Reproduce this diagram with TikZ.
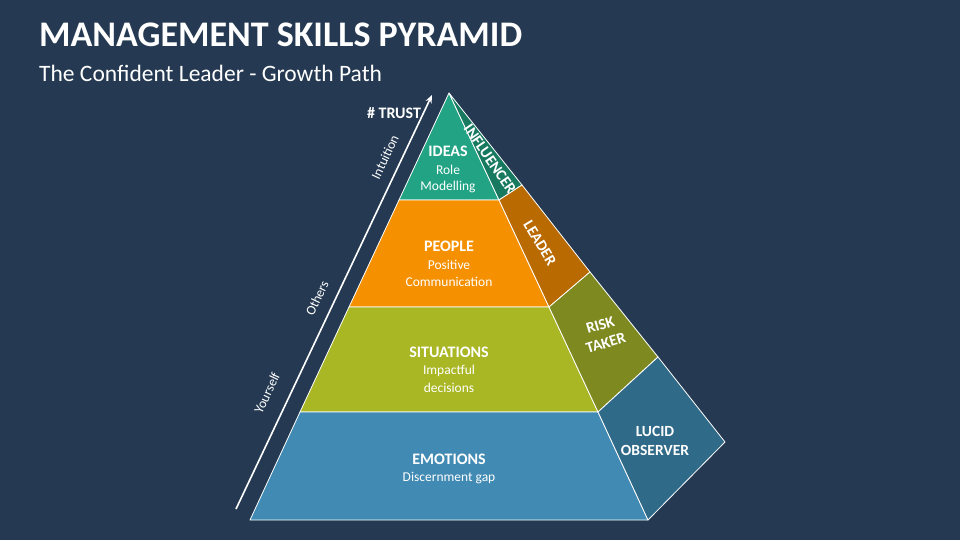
\documentclass[tikz,border=0pt]{standalone}
\usepackage{fontspec}
\setmainfont{Carlito}
\usetikzlibrary{arrows.meta}
\definecolor{bg}{HTML}{253A52}
\definecolor{ideas}{HTML}{21A384}
\definecolor{influ}{HTML}{177A60}
\definecolor{people}{HTML}{F59100}
\definecolor{leader}{HTML}{B96A00}
\definecolor{situ}{HTML}{A9B725}
\definecolor{risk}{HTML}{7E8A20}
\definecolor{emo}{HTML}{418AB3}
\definecolor{lucid}{HTML}{306A89}
\tikzset{
  face/.style={draw=white, line width=0.8pt, line join=round},
  head/.style={text=white, font=\fontsize{16}{18}\selectfont\bfseries, inner sep=0pt},
  sub/.style={text=white, font=\fontsize{13.5}{15}\selectfont, inner sep=0pt},
  side/.style={text=white, font=\fontsize{15.5}{17}\selectfont\bfseries, inner sep=0pt, align=center},
  axis/.style={text=white, font=\fontsize{13.5}{15}\selectfont, inner sep=0pt, rotate=64.7},
}
\begin{document}
\begin{tikzpicture}[x=1pt,y=-1pt]
\useasboundingbox[fill=bg] (0,0) rectangle (960,540);
% coordinates
\coordinate (A) at (449,93);
\coordinate (L1) at (399,200); \coordinate (R1) at (499,200);
\coordinate (L2) at (349,307); \coordinate (R2) at (549,307);
\coordinate (L3) at (300,412); \coordinate (R3) at (598,412);
\coordinate (L4) at (250,520); \coordinate (R4) at (648,520);
\coordinate (S1) at (522,185); \coordinate (S2) at (590,272);
\coordinate (S3) at (658,357); \coordinate (S4) at (725,442);
% faces
\filldraw[face, fill=ideas] (A) -- (R1) -- (L1) -- cycle;
\filldraw[face, fill=people] (L1) -- (R1) -- (R2) -- (L2) -- cycle;
\filldraw[face, fill=situ] (L2) -- (R2) -- (R3) -- (L3) -- cycle;
\filldraw[face, fill=emo] (L3) -- (R3) -- (R4) -- (L4) -- cycle;
\filldraw[face, fill=influ] (A) -- (S1) -- (R1) -- cycle;
\filldraw[face, fill=leader] (R1) -- (S1) -- (S2) -- (R2) -- cycle;
\filldraw[face, fill=risk] (R2) -- (S2) -- (S3) -- (R3) -- cycle;
\filldraw[face, fill=lucid] (R3) -- (S3) -- (S4) -- (R4) -- cycle;
% title
\node[anchor=west, text=white, inner sep=0pt, font=\fontsize{36}{40}\selectfont\bfseries] (title) at (39,35) {MANAGEMENT SKILLS PYRAMID};
\node[anchor=west, text=white, inner sep=0pt, font=\fontsize{23.5}{26}\selectfont] (subtitle) at (39,73) {The Confident Leader - Growth Path};
% front labels
\node[head] (ideas) at (448,151) {IDEAS};
\node[sub] (ideas1) at (448,170) {Role};
\node[sub] (ideas2) at (448,187) {Modelling};
\node[head] (people) at (449,246) {PEOPLE};
\node[sub] (people1) at (449,265) {Positive};
\node[sub] (people2) at (449,282) {Communication};
\node[head] (situ) at (449,352) {SITUATIONS};
\node[sub] (situ1) at (449,371) {Impactful};
\node[sub] (situ2) at (449,388) {decisions};
\node[head] (emo) at (449,459) {EMOTIONS};
\node[sub] (emo1) at (449,478) {Discernment gap};
% side labels
\node[side, rotate=-55.5] (influ) at (490,159) {INFLUENCER};
\node[side, rotate=-59] (leader) at (540,243) {LEADER};
\node[side, rotate=17, font=\fontsize{15.5}{19}\selectfont\bfseries] (risk) at (603,334) {RISK\\TAKER};
\node[side, font=\fontsize{15.5}{19}\selectfont\bfseries] (lucid) at (655,441) {LUCID\\OBSERVER};
% arrow
\coordinate (ar0) at (236,509);
\coordinate (ar1) at (432,95);
\draw[white, line width=1.6pt, -{Stealth[length=8pt,width=6.5pt]}] (ar0) -- (ar1);
\node[text=white, inner sep=0pt, font=\fontsize{16}{18}\selectfont\bfseries] (trust) at (394,113) {\# TRUST};
\node[axis] (intu) at (385,157) {Intuition};
\node[axis] (others) at (317,298) {Others};
\node[axis] (your) at (267,393) {Yourself};
\end{tikzpicture}
\end{document}
